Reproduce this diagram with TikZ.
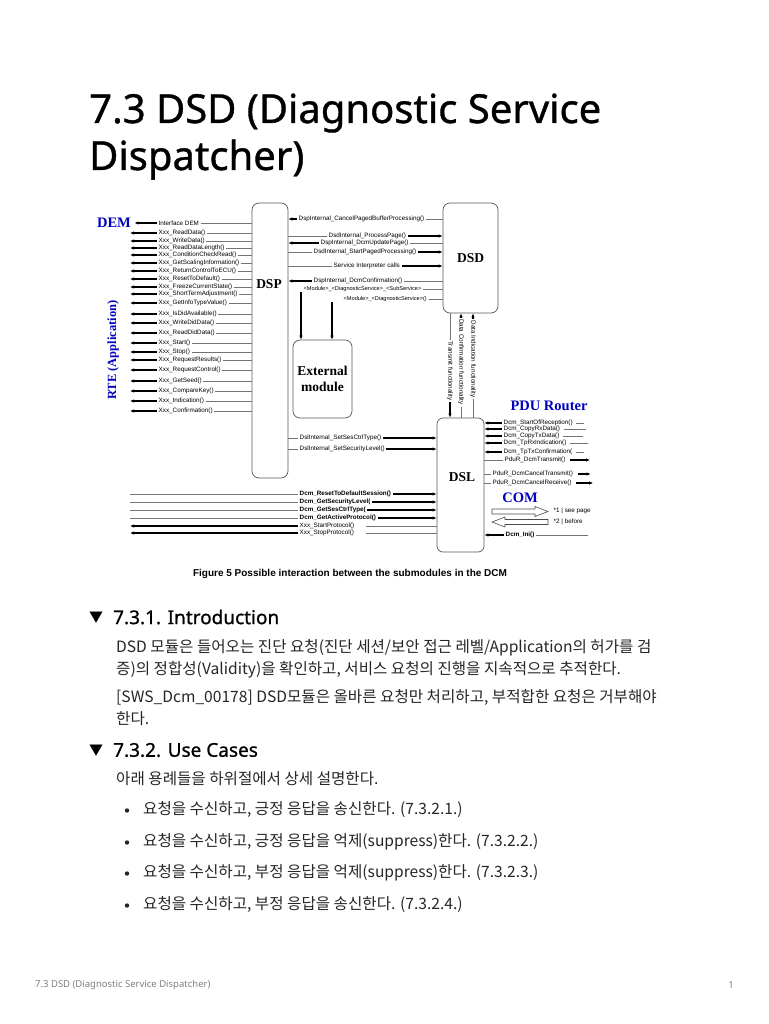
\documentclass[tikz,border=0pt]{standalone}
\usepackage{fontspec}
\setmainfont{Noto Sans CJK KR}
\newfontfamily\headfont[FakeBold=0.9]{Noto Sans}
\newfontfamily\footfont{Noto Sans}
\newfontfamily\dgmfont{Liberation Sans}
\newfontfamily\dgmserif{Liberation Serif}
\usetikzlibrary{positioning,arrows.meta}

\tikzset{
  fn/.style={font=\dgmfont\fontsize{6.3}{7}\selectfont, inner xsep=1.5pt, inner ysep=0.5pt},
  fnb/.style={fn, font=\dgmfont\bfseries\fontsize{6.3}{7}\selectfont},
  tie/.style={draw=black!55, line width=0.55pt},
  call/.style={-{Latex[length=4pt,width=3.4pt]}, line width=1.1pt},
  modbox/.style={draw=black!65, line width=0.7pt, rounded corners=7pt},
  modname/.style={font=\dgmserif\bfseries\fontsize{13.5}{16}\selectfont},
  areaname/.style={modname, text=blue!75!black, font=\dgmserif\bfseries\fontsize{14.5}{16}\selectfont},
  bodytext/.style={anchor=west, inner sep=0pt, font=\fontsize{15.6}{18}\selectfont, text=black!85},
  headtext/.style={anchor=west, inner sep=0pt, font=\headfont\fontsize{19}{22}\selectfont},
}

\begin{document}
\begin{tikzpicture}[x=1pt,y=-1pt]
  % page
  \fill[white] (0,0) rectangle (768,1024);
  \path[use as bounding box] (0,0) rectangle (768,1024);

  % title
  \node[anchor=base west, inner sep=0pt, font=\headfont\fontsize{40}{44}\selectfont] (title1) at (89,123) {7.3 DSD (Diagnostic Service};
  \node[anchor=base west, inner sep=0pt, font=\headfont\fontsize{40}{44}\selectfont] (title2) at (89,170) {Dispatcher)};

  % submodules
  \node[modbox, minimum width=36, minimum height=275] (dsp) at (270,340.5) {};
  \node[modname] (dsplbl) at (269,284) {DSP};
  \node[modbox, modname, minimum width=55, minimum height=110] (dsd) at (470.5,258) {DSD};
  \node[modbox, modname, minimum width=59, minimum height=78, align=center] (ext) at (322.5,379) {External\\module};
  \node[modbox, minimum width=47, minimum height=134, rounded corners=6pt] (dsl) at (460.5,485) {};
  \node[modname] (dsllbl) at (462,477) {DSL};

  % neighbours
  \node[areaname] (dem) at (114,223) {DEM};
  \node[areaname, rotate=90, font=\dgmserif\bfseries\fontsize{12.5}{14}\selectfont] (rtename) at (113,350) {RTE (Application)};
  \node[areaname] (pdur) at (549,406) {PDU Router};
  \node[areaname] (com) at (520,498) {COM};
  \coordinate (rte) at (130,0);

  % DSP -> DEM / RTE
  \node[fn, anchor=west] (ifdem) at (157,223) {Interface DEM};
  \draw[tie] (ifdem.east) -- (ifdem.east -| dsp.west);
  \draw[call] (ifdem.west) -- (dem.east);
  \foreach \y/\t in {233/Xxx\_ReadData(), 241/Xxx\_WriteData(), 248/Xxx\_ReadDataLength(),
      255/Xxx\_ConditionCheckRead(), 263/Xxx\_GetScalingInformation(), 271/Xxx\_ReturnControlToECU(),
      279/Xxx\_ResetToDefault(), 287/Xxx\_FreezeCurrentState(), 294/Xxx\_ShortTermAdjustment(),
      303/Xxx\_GetInfoTypeValue(), 314/Xxx\_IsDidAvailable(), 323/Xxx\_WriteDidData(),
      333/Xxx\_ReadDidData(), 343/Xxx\_Start(), 352/Xxx\_Stop(), 360/Xxx\_RequestResults(),
      370/Xxx\_RequestControl(), 381/Xxx\_GetSeed(), 391/Xxx\_CompareKey(),
      401/Xxx\_Indication(), 411/Xxx\_Confirmation()}{
    \node[fn, anchor=west] (rcall) at (157,\y) {\t};
    \draw[tie] (rcall.east) -- (rcall.east -| dsp.west);
    \draw[call] (rcall.west) -- (rcall.west -| rte);
  }

  % DSP <-> DSD
  \node[fn, anchor=west] (cancel) at (297,219) {DspInternal\_CancelPagedBufferProcessing()};
  \draw[call] (cancel.west) -- (cancel.west -| dsp.east);
  \draw[tie] (cancel.east) -- (cancel.east -| dsd.west);
  \node[fn, anchor=west] (procpage) at (327,236) {DsdInternal\_ProcessPage()};
  \draw[tie] (procpage.west -| dsp.east) -- (procpage.west);
  \draw[call] (procpage.east) -- (procpage.east -| dsd.west);
  \node[fn, anchor=west] (updpage) at (319,243) {DspInternal\_DcmUpdatePage()};
  \draw[call] (updpage.west) -- (updpage.west -| dsp.east);
  \draw[tie] (updpage.east) -- (updpage.east -| dsd.west);
  \node[fn, anchor=west] (startpaged) at (312,252) {DsdInternal\_StartPagedProcessing()};
  \draw[tie] (startpaged.west -| dsp.east) -- (startpaged.west);
  \draw[call] (startpaged.east) -- (startpaged.east -| dsd.west);
  \node[fn, anchor=west] (sic) at (332,266) {Service Interpreter calls};
  \draw[tie] (sic.west -| dsp.east) -- (sic.west);
  \draw[call] (sic.east) -- (sic.east -| dsd.west);
  \node[fn, anchor=west] (dcmconf) at (312,281) {DspInternal\_DcmConfirmation()};
  \draw[call] (dcmconf.west) -- (dcmconf.west -| dsp.east);
  \draw[tie] (dcmconf.east) -- (dcmconf.east -| dsd.west);
  \node[fn, anchor=west, font=\dgmfont\fontsize{5.6}{6}\selectfont] (subsvc) at (302,289) {<Module>\_<DiagnosticService>\_<SubService>};
  \draw[tie] (subsvc.east) -- (subsvc.east -| dsd.west);
  \node[fn, anchor=west, font=\dgmfont\fontsize{5.6}{6}\selectfont] (svc) at (342,299) {<Module>\_<DiagnosticService>()};
  \draw[tie] (svc.east) -- (svc.east -| dsd.west);

  % to external module
  \coordinate (subdown) at (301,292);
  \coordinate (svcdown) at (332,302);
  \draw[call] (subdown) -- (subdown |- ext.north);
  \draw[call] (svcdown) -- (svcdown |- ext.north);

  % DSD <-> DSL
  \node[fn, rotate=-90] (txfun) at (450,371) {Transmit functionality};
  \draw[tie] (txfun.west |- dsd.south) -- (txfun.west);
  \draw[call] (txfun.east) -- (txfun.east |- dsl.north);
  \node[fn, rotate=-90] (cnffun) at (461,362) {Data Confirmation functionality};
  \draw[call] (cnffun.west) -- (cnffun.west |- dsd.south);
  \draw[tie] (cnffun.east) -- (cnffun.east |- dsl.north);
  \node[fn, rotate=-90] (indfun) at (473,359) {Data Indication functionality};
  \draw[call] (indfun.west) -- (indfun.west |- dsd.south);
  \draw[tie] (indfun.east) -- (indfun.east |- dsl.north);

  % DSP -> DSL
  \node[fn, anchor=west] (sesctrl) at (298,438) {DslInternal\_SetSesCtrlType()};
  \draw[tie] (sesctrl.west -| dsp.east) -- (sesctrl.west);
  \draw[call] (sesctrl.east) -- (sesctrl.east -| dsl.west);
  \node[fn, anchor=west] (seclvl) at (298,449) {DslInternal\_SetSecurityLevel()};
  \draw[tie] (seclvl.west -| dsp.east) -- (seclvl.west);
  \draw[call] (seclvl.east) -- (seclvl.east -| dsl.west);

  % RTE <-> DSL
  \foreach \y/\t in {494/Dcm\_ResetToDefaultSession(), 502/Dcm\_GetSecurityLevel(,
      510/Dcm\_GetSesCtrlType(, 518/Dcm\_GetActiveProtocol()}{
    \node[fnb, anchor=west] (dslcall) at (298,\y) {\t};
    \draw[tie] (dslcall.west -| rte) -- (dslcall.west);
    \draw[call] (dslcall.east) -- (dslcall.east -| dsl.west);
  }
  \foreach \y/\t in {526/Xxx\_StartProtocol(), 533/Xxx\_StopProtocol()}{
    \node[fn, anchor=west] (protcall) at (298,\y) {\t};
    \draw[call] (protcall.west) -- (protcall.west -| rte);
    \draw[tie] (protcall.east) ++(10,0) -- (protcall.east -| dsl.west);
  }

  % PDU Router
  \foreach \y/\t/\l in {423/Dcm\_StartOfReception()/8, 429/Dcm\_CopyRxData()/22, 436/Dcm\_CopyTxData()/20,
      443/Dcm\_TpRxIndication()/18, 452/Dcm\_TpTxConfirmation(/8}{
    \node[fn, anchor=west] (pdurin) at (502,\y) {\t};
    \draw[call] (pdurin.west) -- (pdurin.west -| dsl.east);
    \draw[tie] (pdurin.east) ++(2,0) -- ++(\l,0);
  }
  \node[fn, anchor=west] (pdutx) at (503,460) {PduR\_DcmTransmit()};
  \draw[tie] (pdutx.west -| dsl.east) -- (pdutx.west);
  \draw[call] (pdutx.east) ++(3,0) -- ++(20,0);
  \node[fn, anchor=west] (pducantx) at (491,474) {PduR\_DcmCancelTransmit()};
  \draw[tie] (pducantx.west -| dsl.east) -- (pducantx.west);
  \draw[call] (pducantx.east) ++(3,0) -- ++(13,0);
  \node[fn, anchor=west] (pducanrx) at (491,483) {PduR\_DcmCancelReceive()};
  \draw[tie] (pducanrx.west -| dsl.east) -- (pducanrx.west);
  \draw[call] (pducanrx.east) ++(3,0) -- ++(17,0);

  % COM
  \draw[black!70, line width=0.6pt] (492,509) -- (535,509) -- (535,506.5) -- (548,511.5)
    -- (535,516.5) -- (535,514) -- (492,514) -- cycle;
  \draw[black!70, line width=0.6pt] (548,519.5) -- (505,519.5) -- (505,517) -- (492,522)
    -- (505,527) -- (505,524.5) -- (548,524.5) -- cycle;
  \node[fn, anchor=west] (see1) at (552,511) {*1 | see page};
  \node[fn, anchor=west] (see2) at (552,522) {*2 | before};
  \node[fnb, anchor=west] (dcminit) at (504,535) {Dcm\_Ini()};
  \draw[call] (dcminit.west) -- (dcminit.west -| dsl.east);
  \draw[tie] (dcminit.east) -- ++(52,0);

  % caption
  \node[font=\dgmfont\bfseries\fontsize{10}{12}\selectfont] (caption) at (350,574) {Figure 5 Possible interaction between the submodules in the DCM};

  % 7.3.1
  \node[anchor=west, inner sep=0pt, font=\fontsize{14}{16}\selectfont] (tri1) at (89,618) {▼};
  \node[headtext] (h1) at (113,617) {7.3.1. Introduction};
  \node[bodytext] (p1) at (116,648) {DSD 모듈은 들어오는 진단 요청(진단 세션/보안 접근 레벨/Application의 허가를 검};
  \node[bodytext] (p2) at (116,670) {증)의 정합성(Validity)을 확인하고, 서비스 요청의 진행을 지속적으로 추적한다.};
  \node[bodytext] (p3) at (116,697) {[SWS\_Dcm\_00178] DSD모듈은 올바른 요청만 처리하고, 부적합한 요청은 거부해야};
  \node[bodytext] (p4) at (116,719) {한다.};

  % 7.3.2
  \node[anchor=west, inner sep=0pt, font=\fontsize{14}{16}\selectfont] (tri2) at (89,751) {▼};
  \node[headtext] (h2) at (113,750) {7.3.2. Use Cases};
  \node[bodytext] (u0) at (116,779) {아래 용례들을 하위절에서 상세 설명한다.};
  \foreach \y/\t in {810/{요청을 수신하고, 긍정 응답을 송신한다. (7.3.2.1.)},
      842/{요청을 수신하고, 긍정 응답을 억제(suppress)한다. (7.3.2.2.)},
      873/{요청을 수신하고, 부정 응답을 억제(suppress)한다. (7.3.2.3.)},
      905/{요청을 수신하고, 부정 응답을 송신한다. (7.3.2.4.)}}{
    \fill[black!85] (127,\y+0.5) circle (2.2);
    \node[bodytext] (usecase) at (143,\y) {\t};
  }

  % footer
  \node[anchor=west, inner sep=0pt, font=\footfont\fontsize{9.5}{11}\selectfont, text=black!50] (foot) at (35,985) {7.3 DSD (Diagnostic Service Dispatcher)};
  \node[anchor=east, inner sep=0pt, font=\footfont\fontsize{9.5}{11}\selectfont, text=black!50] (pageno) at (734,985) {1};
\end{tikzpicture}
\end{document}
